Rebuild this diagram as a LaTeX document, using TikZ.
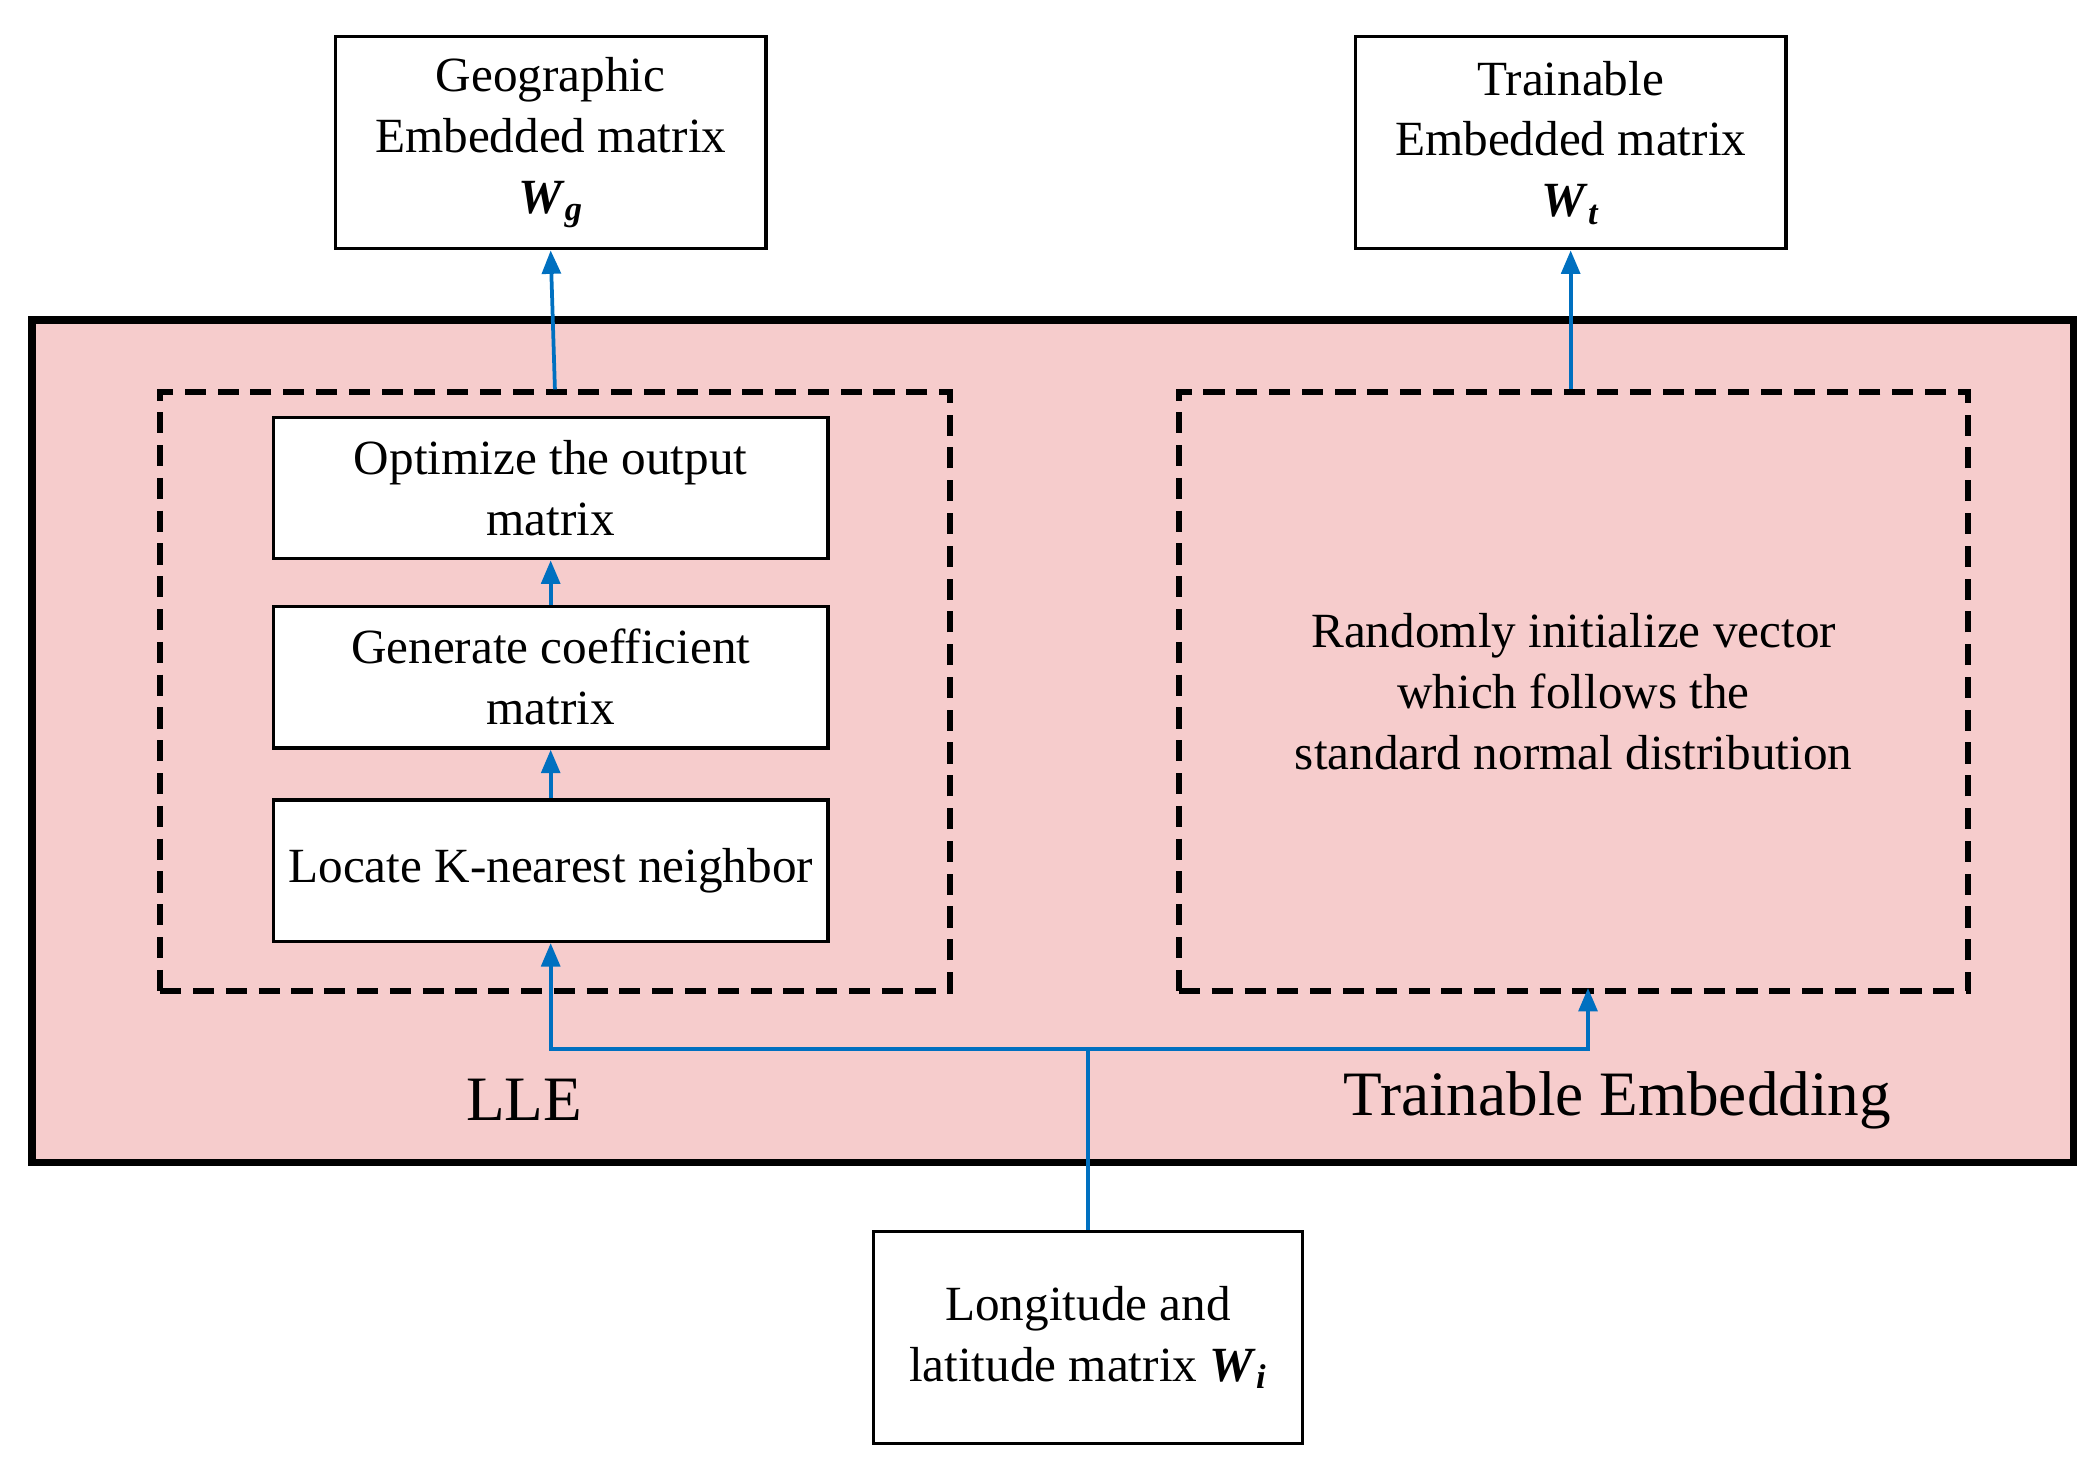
\documentclass[tikz,border=0pt]{standalone}
\usepackage{amsmath}
\usepackage{fontspec}
\setmainfont{Liberation Serif}
\usetikzlibrary{arrows.meta,positioning}
\definecolor{pinkbg}{RGB}{246,204,204}
\definecolor{arrowblue}{RGB}{0,112,192}
\newcommand{\bmat}[2]{\textbf{\textit{#1}}$_{\textbf{\textit{#2}}}$}
\begin{document}
\begin{tikzpicture}[x=0.02cm,y=-0.02cm,
  box/.style={draw,line width=1.5pt,fill=white,align=center,inner sep=0pt,font=\fontsize{21}{26}\selectfont},
  dashbox/.style={draw,line width=2.5pt,dash pattern=on 9pt off 5pt},
  conn/.style={arrowblue,line width=1.6pt},
  arr/.style={conn,-{Triangle[length=10pt,width=8pt]}}]
 \useasboundingbox (0,0) rectangle (1563,1097);
 % outer frame
 \draw[line width=3pt,fill=pinkbg] (24,240) rectangle (1555,872);
 % dashed groups
 \node[dashbox,minimum width=592*0.02cm,minimum height=449*0.02cm,anchor=north west] (lle) at (118,292) {};
 \node[dashbox,minimum width=592*0.02cm,minimum height=449*0.02cm,anchor=north west,align=center,font=\fontsize{21}{26}\selectfont] (rand) at (882,292) {Randomly initialize vector\\which follows the\\standard normal distribution};
 % boxes
 \node[box,minimum width=416*0.02cm,minimum height=106*0.02cm] (opt) at (413,366) {Optimize the output\\matrix};
 \node[box,minimum width=416*0.02cm,minimum height=106*0.02cm] (gen) at (413,508) {Generate coefficient\\matrix};
 \node[box,minimum width=416*0.02cm,minimum height=106*0.02cm] (loc) at (413,653) {Locate K-nearest neighbor};
 \node[box,minimum width=323*0.02cm,minimum height=159*0.02cm] (geo) at (413,107) {Geographic\\Embedded matrix\\\bmat{W}{g}};
 \node[box,minimum width=323*0.02cm,minimum height=159*0.02cm] (tr) at (1178,107) {Trainable\\Embedded matrix\\\bmat{W}{t}};
 \node[box,minimum width=322*0.02cm,minimum height=159*0.02cm] (inp) at (816,1003) {Longitude and\\latitude matrix \bmat{W}{i}};
 % labels
 \node[font=\fontsize{27}{32}\selectfont] (llelab) at (393,825) {LLE};
 \node[font=\fontsize{27}{32}\selectfont] (trlab) at (1213,825) {Trainable Embedding};
 % connectors
 \coordinate (split) at (816,787);
 \coordinate (lturn) at (413,787);
 \coordinate (rturn) at (1191,787);
 \coordinate (rin) at (1191,741);
 \draw[conn] (inp.north) -- (split);
 \draw[arr] (split) -- (lturn) -- (loc.south);
 \draw[arr] (split) -- (rturn) -- (rin);
 \draw[arr] (loc.north) -- (gen.south);
 \draw[arr] (gen.north) -- (opt.south);
 \draw[arr] (lle.north) -- (geo.south);
 \draw[arr] (rand.north -| tr.south) -- (tr.south);
\end{tikzpicture}
\end{document}
